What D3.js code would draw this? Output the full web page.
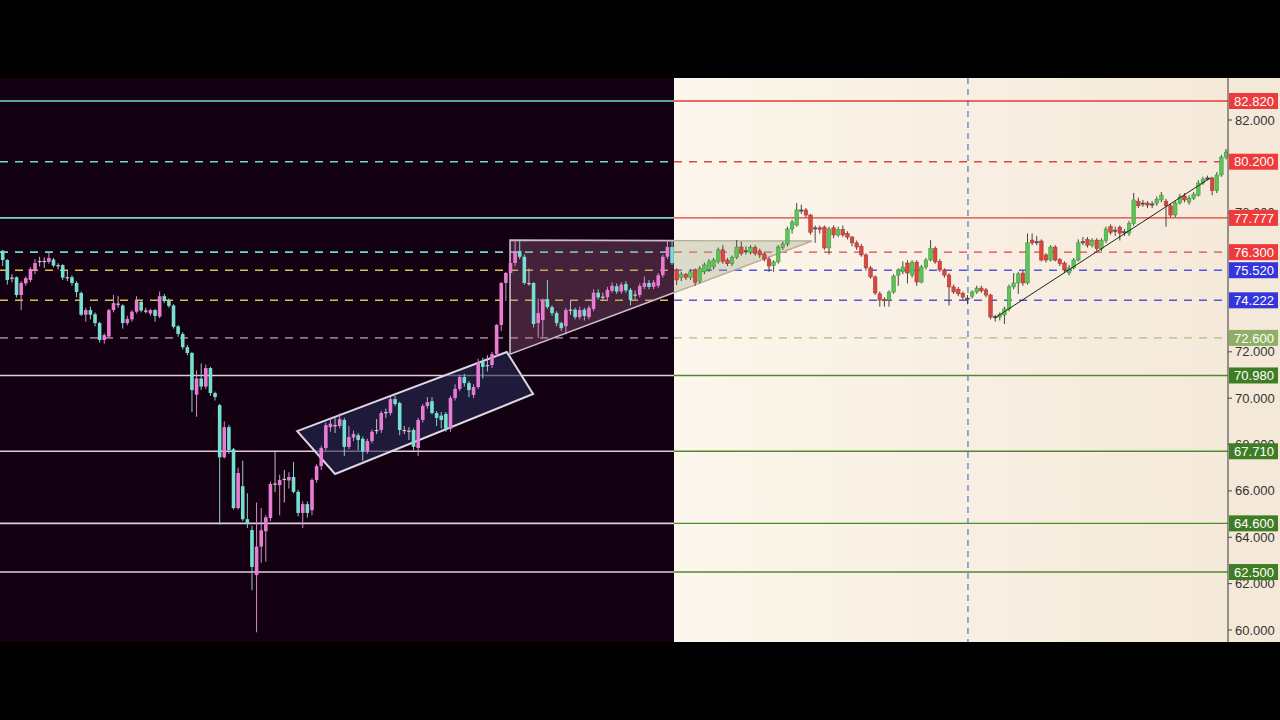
<!DOCTYPE html>
<html><head><meta charset="utf-8">
<script src="https://cdn.jsdelivr.net/npm/d3@7/dist/d3.min.js"></script>
<style>html,body{margin:0;padding:0;background:#000;overflow:hidden}svg{display:block}</style>
</head><body>
<svg id="c" width="1280" height="720"></svg>
<script>
// ---------- DATA ----------
const open = [
76.36,75.96,75.15,75.22,74.45,74.95,75.10,75.50,75.88,75.90,
75.88,75.98,75.74,75.74,75.22,75.22,74.97,74.54,73.60,73.80,
73.62,73.24,72.51,72.66,73.80,74.08,74.00,73.24,73.40,73.73,
74.15,73.78,73.65,73.80,73.52,74.40,74.20,74.00,73.10,72.77,
72.20,71.95,70.15,70.85,70.50,71.30,70.22,69.70,67.45,68.75,
67.80,65.26,66.20,64.78,64.31,62.37,63.60,64.26,64.83,66.30,
66.25,66.48,66.45,66.60,65.96,65.05,65.43,65.17,66.47,67.07,
67.85,68.75,68.80,68.80,69.06,67.90,68.30,68.40,68.25,67.70,
68.15,68.58,68.63,69.36,69.36,69.96,69.79,68.63,68.60,68.63,
67.85,69.06,69.66,69.87,69.36,69.25,69.32,68.68,70.01,70.40,
70.91,70.65,70.14,70.48,71.56,71.40,71.43,71.90,73.16,74.97,
75.40,75.83,76.35,76.10,74.97,74.97,73.24,73.37,74.27,73.93,
73.67,73.24,73.10,73.80,73.82,73.50,73.82,73.50,73.85,74.55,
74.38,74.36,74.63,74.83,74.60,74.93,74.67,74.43,74.45,74.80,
74.97,74.80,74.85,75.30,76.10,76.52,75.53,75.20,75.35,75.20,
75.53,75.05,75.45,75.55,75.66,75.90,76.40,75.96,75.80,76.08,
76.52,76.32,76.30,76.50,76.35,76.22,76.00,75.72,75.88,76.50,
76.65,77.30,77.47,78.12,78.12,77.90,77.35,77.35,77.38,76.48,
77.35,77.04,77.28,77.10,76.95,76.70,76.55,76.18,75.62,75.23,
74.50,74.27,74.23,74.58,75.31,75.45,75.83,75.31,75.87,75.01,
75.66,75.96,76.45,75.90,75.53,75.31,74.80,74.70,74.52,74.32,
74.40,74.58,74.75,74.67,74.45,73.50,73.50,73.59,73.85,74.80,
74.97,75.40,74.97,76.82,76.72,76.78,76.18,75.96,76.52,75.98,
75.83,75.40,75.62,75.96,76.70,76.85,76.60,76.82,76.45,76.80,
77.40,77.25,77.38,77.15,77.12,77.53,78.50,78.42,78.42,78.36,
78.40,78.55,78.50,78.30,77.90,78.42,78.72,78.46,78.63,78.76,
79.28,79.47,79.50,78.95,79.63,80.40];
const high = [
76.40,76.00,75.35,75.25,75.05,75.25,75.65,76.00,76.10,76.08,
76.32,76.05,75.82,75.78,75.53,75.30,75.05,74.60,73.90,73.95,
73.70,73.30,72.80,73.85,74.45,74.40,74.05,73.55,73.80,74.40,
74.20,73.90,73.85,73.85,74.60,74.50,74.30,74.05,73.15,72.85,
72.30,72.00,71.20,71.50,71.45,71.35,70.28,69.75,69.00,68.85,
67.85,67.00,67.30,65.90,64.50,65.50,65.26,64.95,66.40,67.70,
66.70,66.90,66.80,67.25,66.05,65.55,65.55,66.55,67.15,67.95,
68.95,69.10,69.15,69.35,69.15,68.80,68.60,68.50,68.35,68.25,
68.65,69.10,69.45,69.55,70.05,70.10,69.85,68.80,68.75,68.70,
69.15,69.75,70.05,70.05,69.45,69.40,69.40,70.10,70.60,71.00,
71.05,70.75,70.60,71.70,71.75,71.85,72.00,73.20,75.00,75.45,
76.20,76.82,76.82,76.20,75.60,75.00,74.30,74.30,75.10,74.00,
73.75,73.30,73.90,74.20,73.90,73.95,73.90,74.00,74.70,74.70,
74.55,74.80,75.00,74.95,75.00,75.05,74.75,74.65,74.95,75.25,
75.10,75.10,75.40,76.20,76.82,76.82,75.60,75.45,75.40,75.55,
75.60,75.70,75.85,76.00,76.05,76.50,76.60,76.05,76.15,76.82,
76.75,76.55,76.60,76.60,76.45,76.30,76.10,75.95,76.60,76.75,
77.40,77.70,78.42,78.35,78.20,77.95,77.45,77.45,77.45,77.40,
77.45,77.40,77.45,77.20,77.00,76.80,76.65,76.25,75.70,75.30,
74.60,74.35,74.65,75.35,75.60,75.90,75.95,75.95,75.95,75.75,
76.05,76.82,76.55,76.00,75.60,75.40,74.90,74.80,74.60,74.45,
74.65,74.85,74.85,74.75,74.50,73.60,73.70,73.95,74.90,75.40,
75.45,75.50,77.10,77.10,77.00,76.85,76.25,76.60,76.60,76.05,
75.90,75.75,76.05,76.85,76.95,76.95,76.90,76.90,76.90,77.40,
77.50,77.40,77.45,77.30,77.65,78.85,78.65,78.55,78.50,78.50,
78.70,78.90,78.60,78.40,78.50,78.80,78.85,78.75,78.90,79.40,
79.55,79.60,79.55,79.75,80.50,80.75];
const low = [
75.70,74.90,75.00,74.35,73.80,74.85,75.00,75.35,75.68,75.62,
75.80,75.65,75.55,75.10,75.05,74.85,74.36,73.55,73.30,73.40,
73.10,72.40,72.35,72.60,73.70,73.90,73.00,73.15,73.30,73.65,
73.70,73.65,73.55,73.30,73.45,74.10,73.90,73.00,72.65,72.10,
71.85,69.40,69.20,70.35,70.40,70.10,69.90,64.55,67.40,67.60,
65.20,65.20,64.70,64.40,61.72,59.90,62.90,62.95,64.70,65.95,
64.95,65.50,66.10,65.90,64.90,64.40,64.85,64.95,66.35,66.90,
67.75,68.55,68.50,68.70,67.50,67.80,68.15,67.75,67.30,67.60,
68.05,68.45,68.50,69.15,69.25,69.65,68.40,68.45,68.20,67.75,
67.50,68.95,69.55,69.30,68.80,68.70,68.55,68.55,69.90,70.30,
70.50,70.05,70.00,70.40,70.85,71.15,71.30,71.80,72.90,74.20,
75.30,75.70,76.00,74.90,74.85,73.05,72.60,72.65,73.85,73.55,
73.10,72.90,72.75,73.60,73.40,73.40,73.35,73.40,73.75,74.25,
74.20,74.25,74.55,74.50,74.50,74.55,74.00,74.25,74.35,74.70,
74.70,74.70,74.75,75.20,76.00,75.75,74.88,75.05,75.10,75.10,
74.85,74.95,75.35,75.45,75.55,75.80,75.80,75.70,75.70,76.00,
76.15,76.20,76.20,76.15,76.05,75.90,75.45,75.45,75.80,76.40,
76.55,77.10,77.40,77.95,77.80,77.05,76.70,77.10,76.40,76.20,
76.90,76.95,76.95,76.85,76.55,76.40,76.10,75.50,75.15,74.45,
73.95,73.95,73.95,74.50,74.85,75.35,74.95,75.20,74.85,74.95,
75.55,75.90,75.80,75.45,75.20,74.00,74.50,74.40,74.25,74.05,
74.30,74.50,74.55,74.35,73.40,73.30,73.35,73.20,73.75,74.70,
74.50,74.85,74.90,76.60,76.60,75.90,75.85,75.90,75.90,75.70,
75.40,75.30,75.55,75.90,76.60,76.50,76.50,76.35,76.35,76.70,
77.05,77.00,76.80,77.00,77.00,77.45,78.20,78.25,78.20,78.20,
78.30,78.45,77.40,77.80,77.80,78.35,78.45,78.35,78.55,78.70,
79.20,79.40,78.75,78.85,79.55,80.30];
const close = [
75.96,75.10,75.20,74.45,74.97,75.18,75.57,75.83,75.92,75.92,
76.05,75.72,75.70,75.20,75.20,74.97,74.58,73.60,73.80,73.60,
73.24,72.51,72.72,73.80,74.10,74.05,73.24,73.42,73.73,74.19,
73.78,73.76,73.80,73.55,74.40,74.19,73.98,73.08,72.77,72.20,
71.95,70.35,70.85,70.50,71.30,70.22,70.05,67.45,68.75,67.76,
65.26,66.77,64.78,64.57,62.72,63.60,64.30,64.86,66.30,66.32,
66.47,66.52,66.60,65.96,65.05,65.43,65.05,66.47,67.07,67.85,
68.84,68.90,68.84,69.10,67.90,68.32,68.45,68.20,67.70,68.15,
68.55,68.63,69.36,69.40,69.96,69.75,68.63,68.60,68.58,67.90,
69.06,69.66,69.83,69.36,69.15,69.06,68.68,70.01,70.40,70.91,
70.65,70.35,70.48,71.56,71.35,71.43,71.90,73.16,74.97,75.40,
75.83,76.35,76.10,74.97,74.95,73.20,73.67,74.23,73.93,73.67,
73.24,73.02,73.80,73.82,73.50,73.80,73.55,73.90,74.55,74.35,
74.36,74.67,74.85,74.60,74.90,74.65,74.23,74.47,74.84,74.97,
74.80,75.00,75.30,76.10,76.52,75.83,75.10,75.35,75.20,75.45,
75.00,75.60,75.75,75.88,75.96,76.40,75.90,75.80,76.08,76.52,
76.25,76.36,76.50,76.25,76.18,76.00,75.70,75.88,76.52,76.65,
77.30,77.60,78.12,78.10,77.90,77.16,77.30,77.28,76.48,77.30,
77.04,77.28,77.04,76.95,76.70,76.52,76.18,75.62,75.23,74.54,
74.23,74.20,74.58,75.27,75.53,75.66,75.40,75.87,75.01,75.66,
75.96,76.45,75.88,75.53,75.31,74.80,74.58,74.50,74.36,74.30,
74.58,74.75,74.63,74.45,73.50,73.52,73.60,73.85,74.80,74.97,
75.36,74.97,76.70,76.70,76.75,75.96,75.96,76.52,75.96,75.80,
75.53,75.62,75.96,76.70,76.75,76.60,76.80,76.45,76.80,77.30,
77.15,77.22,77.12,77.18,77.53,78.55,78.30,78.40,78.33,78.38,
78.58,78.76,78.30,77.90,78.42,78.68,78.55,78.63,78.80,79.28,
79.45,79.50,78.95,79.63,80.40,80.62];

// horizontal price levels
const levels      = [82.82, 80.2, 77.777, 76.3, 75.52, 74.222, 72.6, 70.98, 67.71, 64.6, 62.5];
const levelDashed = [false, true, false, true, true, true, true, false, false, false, false];
// axis ticks that are visible (80, 76, 74 are hidden behind price labels in the reference)
const tickValues  = [82, 78, 72, 70, 68, 66, 64, 62, 60];

// drawings, in (bar index, price)
const channelPts  = [[63.8, 68.58], [109.2, 71.99], [114.9, 70.18], [72.0, 66.73]];
const trianglePts = [[109.9, 76.82], [175.3, 76.78], [109.9, 71.90]];
const trendPts    = [[214.9, 73.46], [261.6, 79.50]];
const vLineIndex  = 209.1;

// ---------- STYLE ----------
const leftLevelColor  = ["#70d8d0","#70d8d0","#70d8d0","#70d8d0","#d8c442","#d8c442","#9a7090","#e6cade","#e6cade","#e6cade","#e6cade"];
const rightLevelColor = ["#e53a3a","#e04545","#e53a3a","#e04545","#5555dd","#5555dd","#aebd82","#4f8a2e","#4f8a2e","#4f8a2e","#4f8a2e"];
const labelBg         = ["#ee3a3a","#ee3a3a","#ee3a3a","#ee3a3a","#3535dd","#3535dd","#8fb064","#3f7d24","#3f7d24","#3f7d24","#3f7d24"];

(function draw() {
const W = 1280, H = 720, topY = 78, botY = 642, split = 674, axisX = 1228;
const svg = d3.select("#c");
const defs = svg.append("defs");

const N = close.length;
const x = d3.scaleLinear().domain([0, N - 1]).range([2.7, 1226]);
const y = d3.scaleLinear().domain([60, 82]).range([630, 120]);

svg.append("rect").attr("width", W).attr("height", H).attr("fill", "#000");
const g1 = defs.append("linearGradient").attr("id", "cream").attr("x1", 0).attr("x2", 1).attr("y1", 0).attr("y2", 0);
g1.append("stop").attr("offset", "0%").attr("stop-color", "#fcf6ec");
g1.append("stop").attr("offset", "100%").attr("stop-color", "#f4e8d8");
svg.append("rect").attr("x", 0).attr("y", topY).attr("width", split).attr("height", botY - topY).attr("fill", "#130010");
svg.append("rect").attr("x", split).attr("y", topY).attr("width", W - split).attr("height", botY - topY).attr("fill", "url(#cream)");

defs.append("clipPath").attr("id", "clipL").append("rect").attr("x", 0).attr("y", topY).attr("width", split).attr("height", botY - topY);
defs.append("clipPath").attr("id", "clipR").append("rect").attr("x", split).attr("y", topY).attr("width", axisX - split).attr("height", botY - topY);

const L = svg.append("g").attr("clip-path", "url(#clipL)");
const R = svg.append("g").attr("clip-path", "url(#clipR)");

R.append("line").attr("x1", x(vLineIndex)).attr("x2", x(vLineIndex)).attr("y1", topY).attr("y2", botY)
  .attr("stroke", "#5b7fd0").attr("stroke-width", 1.3).attr("stroke-dasharray", "6,5");

levels.forEach((v, i) => {
  L.append("line").attr("x1", 0).attr("x2", split).attr("y1", y(v)).attr("y2", y(v))
    .attr("stroke", leftLevelColor[i]).attr("stroke-width", 1.6)
    .attr("stroke-dasharray", levelDashed[i] ? "8,7" : null);
  R.append("line").attr("x1", split).attr("x2", axisX).attr("y1", y(v)).attr("y2", y(v))
    .attr("stroke", rightLevelColor[i]).attr("stroke-width", 1.4)
    .attr("stroke-dasharray", levelDashed[i] ? "8,7" : null);
});

const line = d3.line().x(d => x(d[0])).y(d => y(d[1]));
const poly = pts => line(pts) + "Z";

L.append("path").attr("d", poly(channelPts)).attr("fill", "rgba(38,42,82,0.62)")
  .attr("stroke", "#dcd6e6").attr("stroke-width", 2);
L.append("path").attr("d", poly(trianglePts)).attr("fill", "rgba(170,105,150,0.32)")
  .attr("stroke", "#c9bccb").attr("stroke-width", 1.6);
R.append("path").attr("d", poly(trianglePts)).attr("fill", "rgba(160,170,140,0.35)")
  .attr("stroke", "#b7ad92").attr("stroke-width", 1.4);

const bw = 3.6;
const candles = d3.range(N).map(i => ({ i, o: open[i], h: high[i], l: low[i], c: close[i] }));
candles.forEach(d => {
  const cx = x(d.i);
  const isLeft = cx < split;
  const up = d.c >= d.o;
  const doji = Math.abs(d.c - d.o) < 0.06;
  let body, wick, edge;
  if (isLeft) {
    body = doji ? "#d8c8d6" : (up ? "#e77cd2" : "#74e0d2");
    wick = doji ? "#c8b8c6" : (up ? "#d090c4" : "#8ccfc6");
    edge = body;
  } else {
    body = doji ? "#555" : (up ? "#5cc457" : "#d9473f");
    wick = "#444";
    edge = doji ? "#444" : (up ? "#3a8f35" : "#a83029");
  }
  const G = isLeft ? L : R;
  G.append("line").attr("x1", cx).attr("x2", cx).attr("y1", y(d.h)).attr("y2", y(d.l))
    .attr("stroke", wick).attr("stroke-width", 1);
  const y0 = y(Math.max(d.o, d.c)), y1 = y(Math.min(d.o, d.c));
  G.append("rect").attr("x", cx - bw / 2).attr("y", y0).attr("width", bw).attr("height", Math.max(1.2, y1 - y0))
    .attr("fill", body).attr("stroke", isLeft ? "none" : edge).attr("stroke-width", 0.5);
});

R.append("path").attr("d", line(trendPts)).attr("stroke", "#222").attr("stroke-width", 1).attr("fill", "none");

const ax = svg.append("g");
ax.append("line").attr("x1", axisX).attr("x2", axisX).attr("y1", topY).attr("y2", botY).attr("stroke", "#555").attr("stroke-width", 1.2);
const fmt = d3.format(".3f");
tickValues.forEach(v => {
  ax.append("line").attr("x1", axisX).attr("x2", axisX + 4).attr("y1", y(v)).attr("y2", y(v)).attr("stroke", "#444");
  ax.append("text").attr("x", axisX + 7).attr("y", y(v)).attr("dy", "0.35em").text(fmt(v))
    .attr("font-family", "Liberation Sans, Arial, sans-serif").attr("font-size", 13).attr("fill", "#333");
});
levels.forEach((v, i) => {
  ax.append("rect").attr("x", axisX + 1).attr("y", y(v) - 8).attr("width", 49).attr("height", 16).attr("fill", labelBg[i]);
  ax.append("text").attr("x", axisX + 26).attr("y", y(v)).attr("dy", "0.36em").attr("text-anchor", "middle")
    .text(fmt(v)).attr("font-family", "Liberation Sans, Arial, sans-serif").attr("font-size", 13).attr("fill", "#fff");
});
})();
</script>
</body></html>
